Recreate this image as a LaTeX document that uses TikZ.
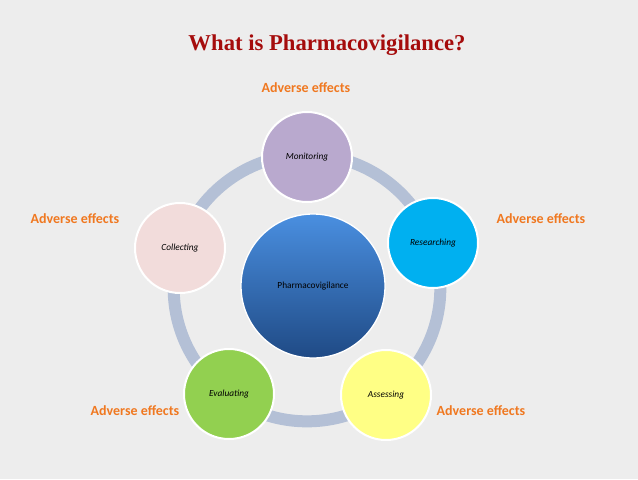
\documentclass[tikz,border=0pt]{standalone}
\usepackage{fontspec}
\setmainfont{Liberation Serif}
\newfontfamily\carl{Carlito}
\definecolor{ctop}{HTML}{4A8FE0}
\definecolor{cbot}{HTML}{1F4A85}
\definecolor{cmon}{HTML}{B9A9CE}
\definecolor{cres}{HTML}{00B0F0}
\definecolor{cass}{HTML}{FFFF85}
\definecolor{ceva}{HTML}{92D050}
\definecolor{ccol}{HTML}{F2DCDB}
\definecolor{cring}{HTML}{B4C0D6}
\definecolor{cadv}{HTML}{F07820}
\definecolor{ctitle}{HTML}{A50C0C}
\begin{document}
\begin{tikzpicture}[x=0.75pt,y=-0.75pt,
  adv/.style={font=\carl\bfseries\fontsize{10.5}{12}\selectfont,text=cadv},
  petal/.style={circle,minimum size=67.5pt,inner sep=0pt,draw=white,line width=1.5pt,font=\carl\itshape\fontsize{7}{8}\selectfont}]
\fill[black!7] (0,0) rectangle (638,479);
\useasboundingbox (0,0) rectangle (638,479);
\node[font=\bfseries\fontsize{17}{20}\selectfont,text=ctitle] (title) at (327,45) {What is Pharmacovigilance?};
\coordinate (rc) at (307,288);
\draw[line width=9pt,color=cring] (rc) circle (100pt);
\node[circle,minimum size=108pt,inner sep=0pt,top color=ctop,bottom color=cbot,draw=white,line width=1pt,font=\carl\fontsize{7}{8}\selectfont] (c) at (313,286) {Pharmacovigilance};
\node[petal,fill=cmon] (mon) at (307,157) {Monitoring};
\node[petal,fill=cres] (res) at (433,243) {Researching};
\node[petal,fill=cass] (ass) at (386,395) {Assessing};
\node[petal,fill=ceva] (eva) at (229,394) {Evaluating};
\node[petal,fill=ccol] (col) at (180,248) {Collecting};
\node[adv] (a1) at (306,88) {Adverse effects};
\node[adv] (a2) at (75,219) {Adverse effects};
\node[adv] (a3) at (541,219) {Adverse effects};
\node[adv] (a4) at (135,411) {Adverse effects};
\node[adv] (a5) at (481,411) {Adverse effects};
\end{tikzpicture}
\end{document}
